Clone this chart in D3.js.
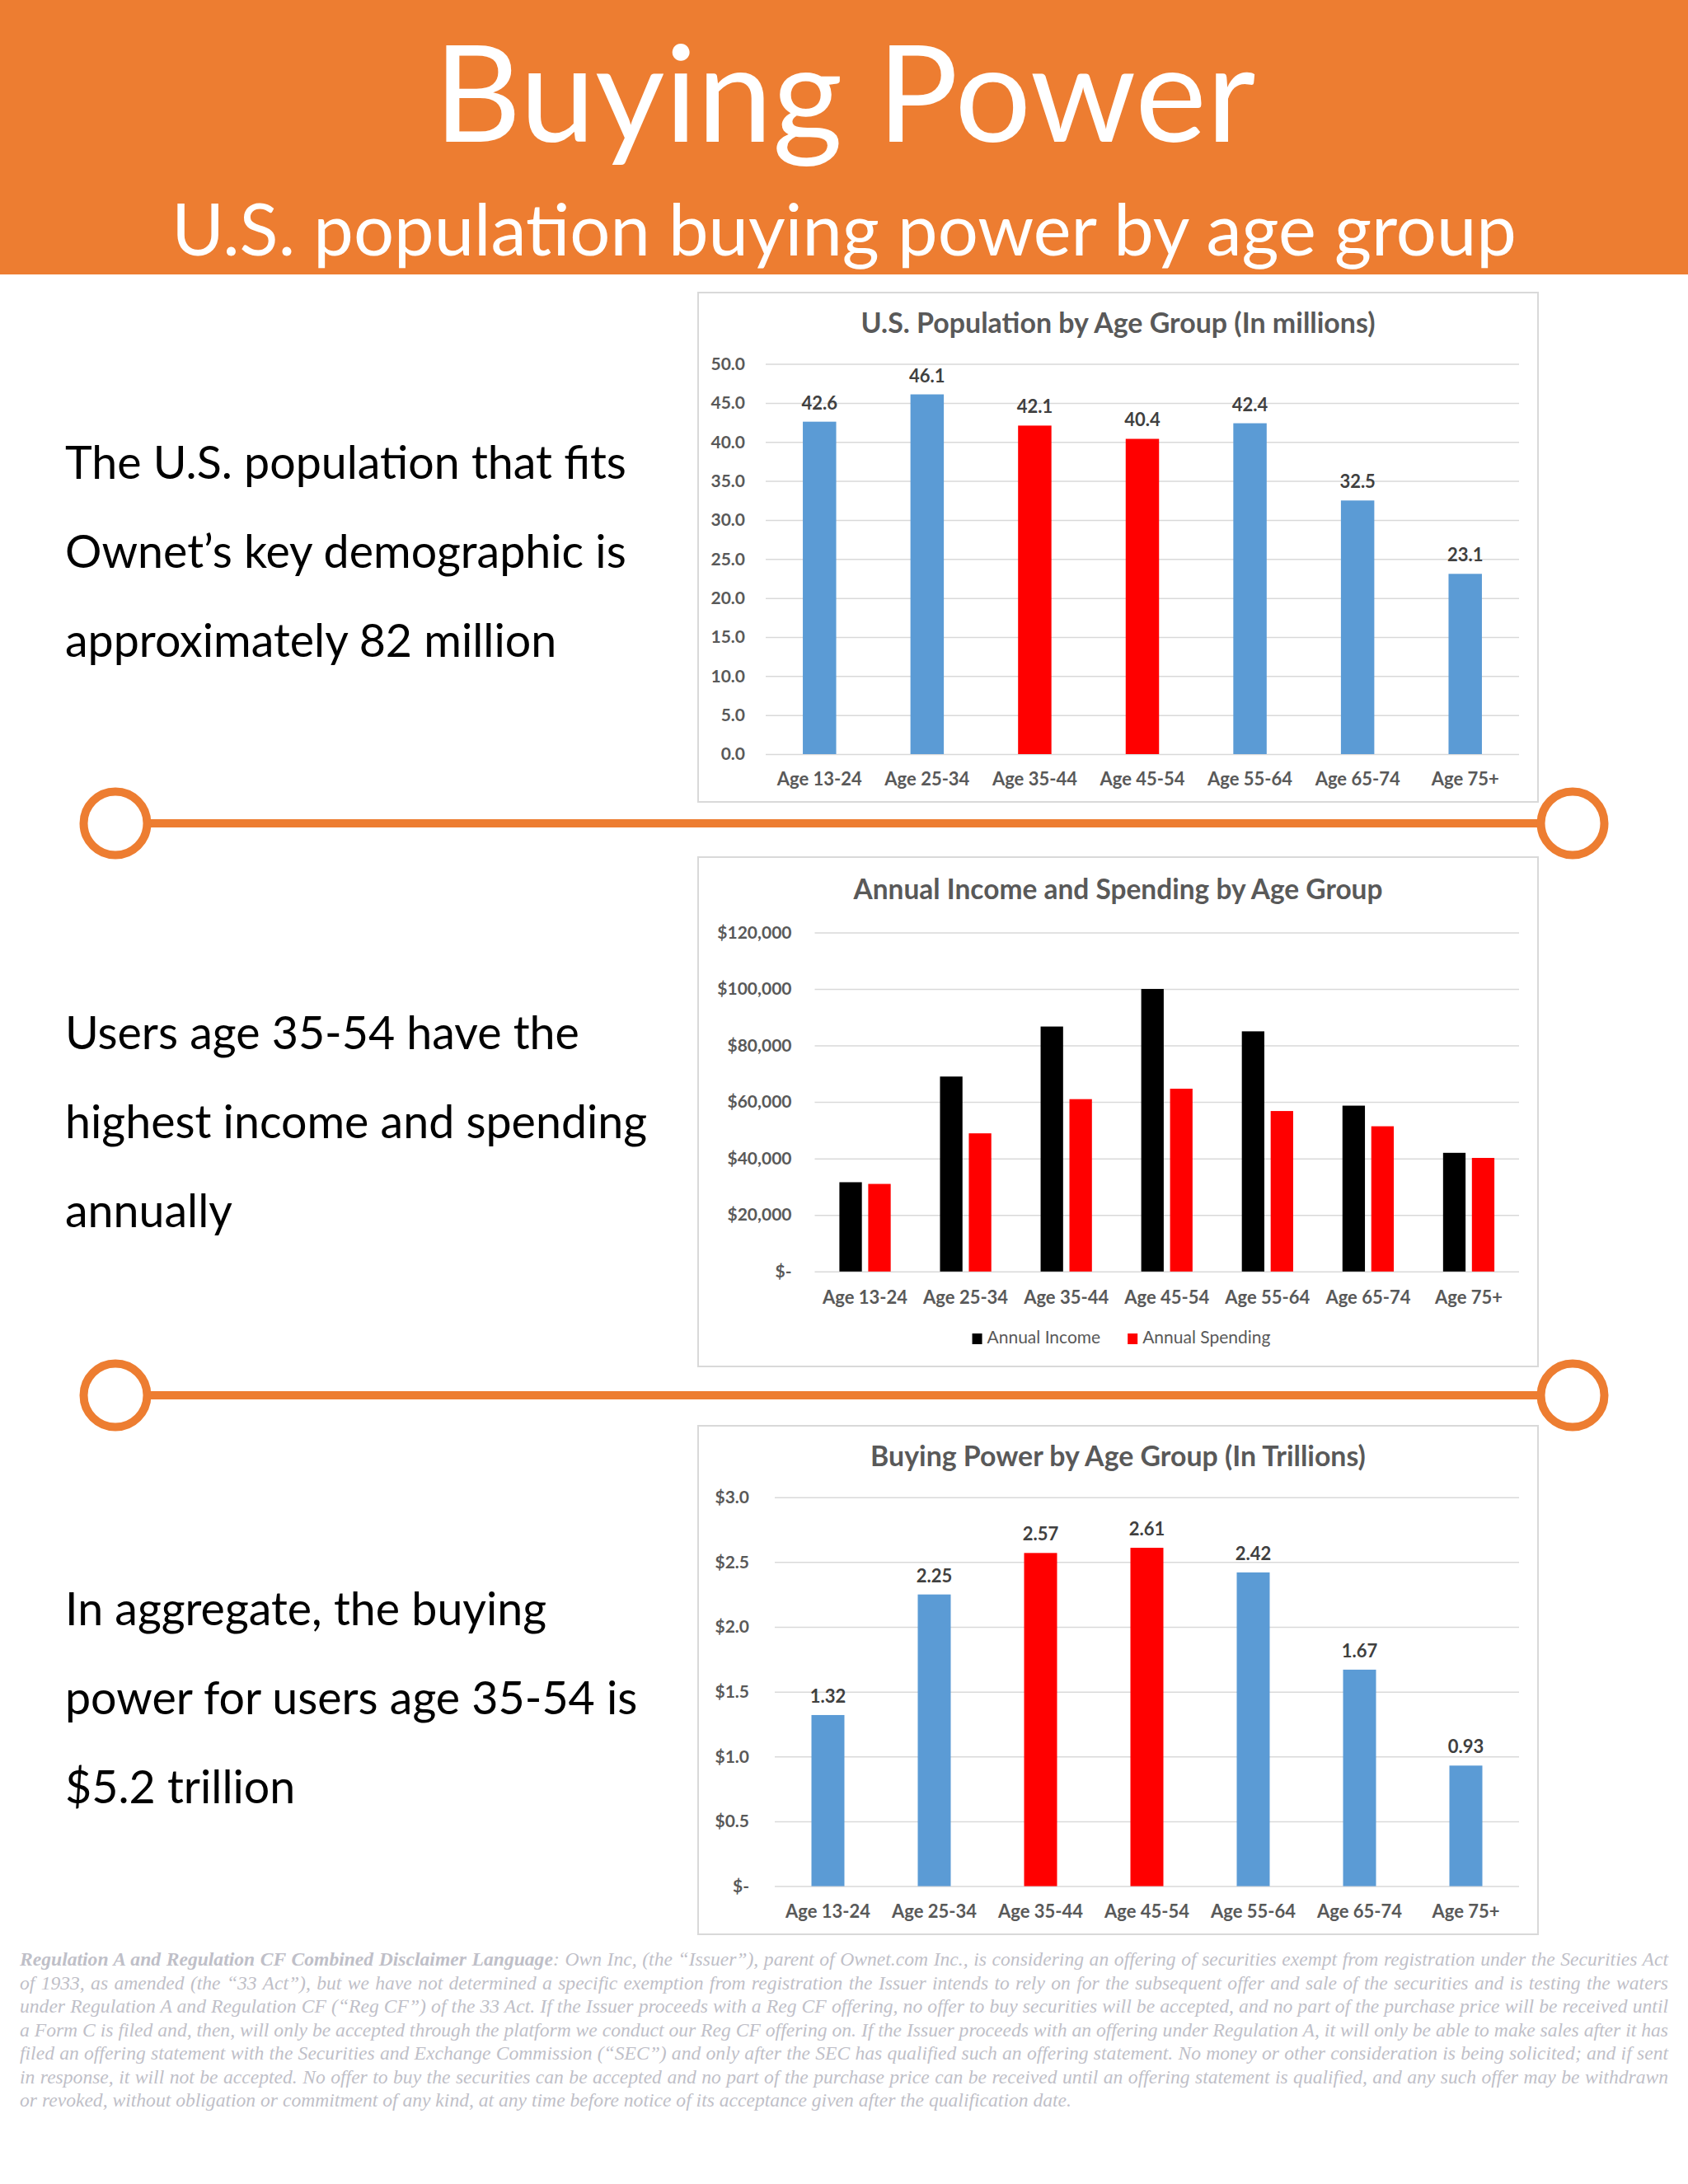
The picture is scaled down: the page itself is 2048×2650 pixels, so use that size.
<!DOCTYPE html>
<html>
<head>
<meta charset="utf-8">
<title>Buying Power</title>
<script src="https://cdn.jsdelivr.net/npm/d3@7"></script>
<style>
  html, body { margin: 0; padding: 0; background: #fff; }
  svg { display: block; }
</style>
</head>
<body>
<svg id="page" width="2048" height="2650"></svg>
<script>
'use strict';

var age_groups = ["Age 13-24", "Age 25-34", "Age 35-44", "Age 45-54", "Age 55-64", "Age 65-74", "Age 75+"];
var highlight_groups = ["Age 35-44", "Age 45-54"];

var population_millions = [42.6, 46.1, 42.1, 40.4, 42.4, 32.5, 23.1];
var population_ticks = [0, 5, 10, 15, 20, 25, 30, 35, 40, 45, 50];

var annual_income = [31600, 69000, 86700, 100000, 85000, 58700, 42000];
var annual_spending = [31000, 48900, 61000, 64700, 56800, 51400, 40200];
var income_ticks = [0, 20000, 40000, 60000, 80000, 100000, 120000];

var buying_power_trillions = [1.32, 2.25, 2.57, 2.61, 2.42, 1.67, 0.93];
var buying_power_ticks = [0, 0.5, 1.0, 1.5, 2.0, 2.5, 3.0];

var blurbs = [
  ["The U.S. population that fits", "Ownet\u2019s key demographic is", "approximately 82 million"],
  ["Users age 35-54 have the", "highest income and spending", "annually"],
  ["In aggregate, the buying", "power for users age 35-54 is", "$5.2 trillion"]
];

var disclaimer_lead = "Regulation A and Regulation CF Combined Disclaimer Language";
var disclaimer_lines = [
  ": Own Inc, (the \u201cIssuer\u201d), parent of Ownet.com Inc., is considering an offering of securities exempt from registration under the Securities Act",
  "of 1933, as amended (the \u201c33 Act\u201d), but we have not determined a specific exemption from registration the Issuer intends to rely on for the subsequent offer and sale of the securities and is testing the waters",
  "under Regulation A and Regulation CF (\u201cReg CF\u201d) of the 33 Act. If the Issuer proceeds with a Reg CF offering, no offer to buy securities will be accepted, and no part of the purchase price will be received until",
  "a Form C is filed and, then, will only be accepted through the platform we conduct our Reg CF offering on. If the Issuer proceeds with an offering under Regulation A, it will only be able to make sales after it has",
  "filed an offering statement with the Securities and Exchange Commission (\u201cSEC\u201d) and only after the SEC has qualified such an offering statement. No money or other consideration is being solicited; and if sent",
  "in response, it will not be accepted. No offer to buy the securities can be accepted and no part of the purchase price can be received until an offering statement is qualified, and any such offer may be withdrawn",
  "or revoked, without obligation or commitment of any kind, at any time before notice of its acceptance given after the qualification date."
];

var ORANGE = "#ed7d31";
var BLUE = "#5b9bd5";
var RED = "#ff0000";
var GRID = "#d9d9d9";
var LABEL = "#595959";

var page = d3.select("#page");

// shrink / grow a text node until it is as wide as target_width
function fit_text(sel, target_width) {
  var size = parseFloat(sel.attr("font-size"));
  var w = sel.node().getComputedTextLength();
  if (w > 0) sel.attr("font-size", (size * target_width / w).toFixed(2));
  return sel;
}

function group_color(name) {
  return highlight_groups.indexOf(name) >= 0 ? RED : BLUE;
}


class BarChart {

  constructor(options) {
    var default_options = {
      name: "chart",
      frame: [847, 355, 1019, 618],   // x, y, width, height
      plot_left: 929,
      plot_right: 1843,
      plot_top: 441.6,
      plot_bottom: 915,
      title: "",
      title_y: 404,
      title_width: 620,
      ticks: [],
      tick_format: d3.format(".1f"),
      tick_padding: 25,
      label_y: 953,
      gap: 0.69,
      group_gap: 0.22,
      series: [],
      show_values: false,
      value_format: d3.format(".1f"),
      legend_y: null
    };
    this.options = Object.assign({}, default_options, options);
  }

  render() {
    var o = this.options;
    var g = page.append("g").attr("class", o.name);

    g.append("rect")
      .attr("x", o.frame[0]).attr("y", o.frame[1])
      .attr("width", o.frame[2]).attr("height", o.frame[3])
      .attr("fill", "#fff")
      .attr("stroke", GRID)
      .attr("stroke-width", 2);

    var cx = o.frame[0] + o.frame[2] / 2;
    var title = g.append("text")
      .attr("x", cx).attr("y", o.title_y)
      .attr("text-anchor", "middle")
      .attr("font-family", "Lato")
      .attr("font-weight", 700)
      .attr("font-size", 30)
      .attr("fill", LABEL)
      .text(o.title);
    fit_text(title, o.title_width);

    var y = d3.scaleLinear()
      .domain([0, d3.max(o.ticks)])
      .range([o.plot_bottom, o.plot_top]);

    var x = d3.scaleBand()
      .domain(age_groups)
      .range([o.plot_left, o.plot_right])
      .paddingInner(o.gap)
      .paddingOuter(o.gap / 2);

    var sub = d3.scaleBand()
      .domain(o.series.map(function(s) { return s.name; }))
      .range([0, x.bandwidth()])
      .paddingInner(o.series.length > 1 ? o.group_gap : 0);

    // gridlines + value axis
    var y_axis = g.append("g")
      .attr("transform", "translate(" + o.plot_left + ",0)")
      .call(d3.axisLeft(y)
        .tickValues(o.ticks)
        .tickSize(-(o.plot_right - o.plot_left))
        .tickPadding(o.tick_padding)
        .tickFormat(o.tick_format));
    y_axis.select(".domain").remove();
    y_axis.selectAll("line").attr("stroke", GRID).attr("stroke-width", 1.5);
    y_axis.selectAll("text")
      .attr("font-family", "Lato")
      .attr("font-weight", 700)
      .attr("font-size", 21)
      .attr("fill", LABEL);

    // category axis
    var x_axis = g.append("g")
      .attr("transform", "translate(0," + o.plot_bottom + ")")
      .call(d3.axisBottom(x).tickSize(0));
    x_axis.select(".domain").remove();
    x_axis.selectAll("text")
      .attr("dy", null)
      .attr("y", o.label_y - o.plot_bottom)
      .attr("font-family", "Lato")
      .attr("font-weight", 700)
      .attr("font-size", 22)
      .attr("fill", LABEL);

    // bars
    o.series.forEach(function(s) {
      g.append("g").attr("class", "series")
        .selectAll("rect")
        .data(s.values)
        .join("rect")
          .attr("x", function(d, i) { return x(age_groups[i]) + sub(s.name); })
          .attr("y", function(d) { return y(d); })
          .attr("width", sub.bandwidth())
          .attr("height", function(d) { return y(0) - y(d); })
          .attr("fill", function(d, i) { return s.color(age_groups[i]); });

      if (o.show_values) {
        g.append("g").attr("class", "values")
          .selectAll("text")
          .data(s.values)
          .join("text")
            .attr("x", function(d, i) { return x(age_groups[i]) + sub(s.name) + sub.bandwidth() / 2; })
            .attr("y", function(d) { return y(d) - 15; })
            .attr("text-anchor", "middle")
            .attr("font-family", "Lato")
            .attr("font-weight", 700)
            .attr("font-size", 22)
            .attr("fill", "#404040")
            .text(o.value_format);
      }
    });

    if (o.legend_y != null) this._legend(g, cx);
    return this;
  }

  _legend(g, cx) {
    var o = this.options;
    var legend = g.append("g").attr("class", "legend");
    var at = 0;
    o.series.forEach(function(s) {
      var item = legend.append("g").attr("transform", "translate(" + at + ",0)");
      item.append("rect")
        .attr("x", 0).attr("y", o.legend_y - 12)
        .attr("width", 12).attr("height", 13)
        .attr("fill", s.color(null));
      var t = item.append("text")
        .attr("x", 18).attr("y", o.legend_y)
        .attr("font-family", "Lato")
        .attr("font-size", 21)
        .attr("fill", LABEL)
        .text(s.name);
      at += 18 + t.node().getComputedTextLength() + 33;
    });
    var total = at - 33;
    legend.attr("transform", "translate(" + (cx + 4 - total / 2) + ",0)");
  }
}


// ---- header band ----
page.append("rect")
  .attr("x", 0).attr("y", 0)
  .attr("width", 2048).attr("height", 333)
  .attr("fill", ORANGE);

fit_text(page.append("text")
  .attr("x", 1025).attr("y", 172)
  .attr("text-anchor", "middle")
  .attr("font-family", "Lato")
  .attr("font-size", 160)
  .attr("fill", "#fff")
  .text("Buying Power"), 997);

fit_text(page.append("text")
  .attr("x", 1024).attr("y", 310)
  .attr("text-anchor", "middle")
  .attr("font-family", "Lato")
  .attr("font-size", 88)
  .attr("fill", "#fff")
  .text("U.S. population buying power by age group"), 1632);

// ---- left-hand blurbs ----
var blurb_tops = [581, 1273, 1972];
var body_size = null;
blurbs.forEach(function(lines, b) {
  lines.forEach(function(line, i) {
    var t = page.append("text")
      .attr("x", 79)
      .attr("y", blurb_tops[b] + i * 108)
      .attr("font-family", "Lato")
      .attr("font-size", body_size || 58)
      .attr("fill", "#000")
      .text(line);
    if (body_size == null) {
      fit_text(t, 681);
      body_size = t.attr("font-size");
    }
  });
});

// ---- orange connectors between the panels ----
[999, 1693].forEach(function(cy) {
  var c = page.append("g").attr("class", "connector");
  c.append("line")
    .attr("x1", 178).attr("x2", 1870)
    .attr("y1", cy).attr("y2", cy)
    .attr("stroke", ORANGE).attr("stroke-width", 10);
  [140, 1908].forEach(function(x) {
    c.append("circle")
      .attr("cx", x).attr("cy", cy).attr("r", 38.5)
      .attr("fill", "#fff")
      .attr("stroke", ORANGE).attr("stroke-width", 10);
  });
});

// ---- the three charts ----
new BarChart({
  name: "population",
  frame: [847, 355, 1019, 618],
  plot_left: 929, plot_right: 1843, plot_top: 441.6, plot_bottom: 915,
  title: "U.S. Population by Age Group (In millions)",
  title_y: 404, title_width: 624,
  ticks: population_ticks,
  tick_format: d3.format(".1f"),
  tick_padding: 25,
  label_y: 953,
  series: [{ name: "Population", values: population_millions, color: group_color }],
  show_values: true,
  value_format: d3.format(".1f")
}).render();

new BarChart({
  name: "income",
  frame: [847, 1040, 1019, 618],
  plot_left: 988.5, plot_right: 1843, plot_top: 1131.4, plot_bottom: 1542.8,
  title: "Annual Income and Spending by Age Group",
  title_y: 1091, title_width: 642,
  ticks: income_ticks,
  tick_format: function(v) { return v === 0 ? "$-" : "$" + d3.format(",")(v); },
  tick_padding: 28,
  label_y: 1582,
  gap: 0.49,
  group_gap: 0.22,
  series: [
    { name: "Annual Income", values: annual_income, color: function() { return "#000"; } },
    { name: "Annual Spending", values: annual_spending, color: function() { return RED; } }
  ],
  legend_y: 1630
}).render();

new BarChart({
  name: "buying_power",
  frame: [847, 1730, 1019, 617],
  plot_left: 940, plot_right: 1843, plot_top: 1816.7, plot_bottom: 2288.6,
  title: "Buying Power by Age Group (In Trillions)",
  title_y: 1779, title_width: 601,
  ticks: buying_power_ticks,
  tick_format: function(v) { return v === 0 ? "$-" : "$" + d3.format(".1f")(v); },
  tick_padding: 31,
  label_y: 2327,
  series: [{ name: "Buying Power", values: buying_power_trillions, color: group_color }],
  show_values: true,
  value_format: d3.format(".2f")
}).render();

// ---- disclaimer, justified line by line ----
var disc = page.append("g").attr("class", "disclaimer")
  .attr("font-family", "Liberation Serif")
  .attr("font-style", "italic")
  .attr("font-size", 23.6)
  .attr("fill", "#bfbfc8");

disclaimer_lines.forEach(function(line, i) {
  var t = disc.append("text")
    .attr("x", 24)
    .attr("y", 2385 + i * 28.5);
  if (i === 0) {
    t.append("tspan").attr("font-weight", 700).text(disclaimer_lead);
  }
  t.append("tspan").text(line);

  if (i < disclaimer_lines.length - 1) {
    var full = (i === 0 ? disclaimer_lead : "") + line;
    var spaces = full.split(" ").length - 1;
    var w = t.node().getComputedTextLength();
    t.attr("word-spacing", ((2024 - 24 - w) / spaces).toFixed(3));
  }
});
</script>
</body>
</html>
